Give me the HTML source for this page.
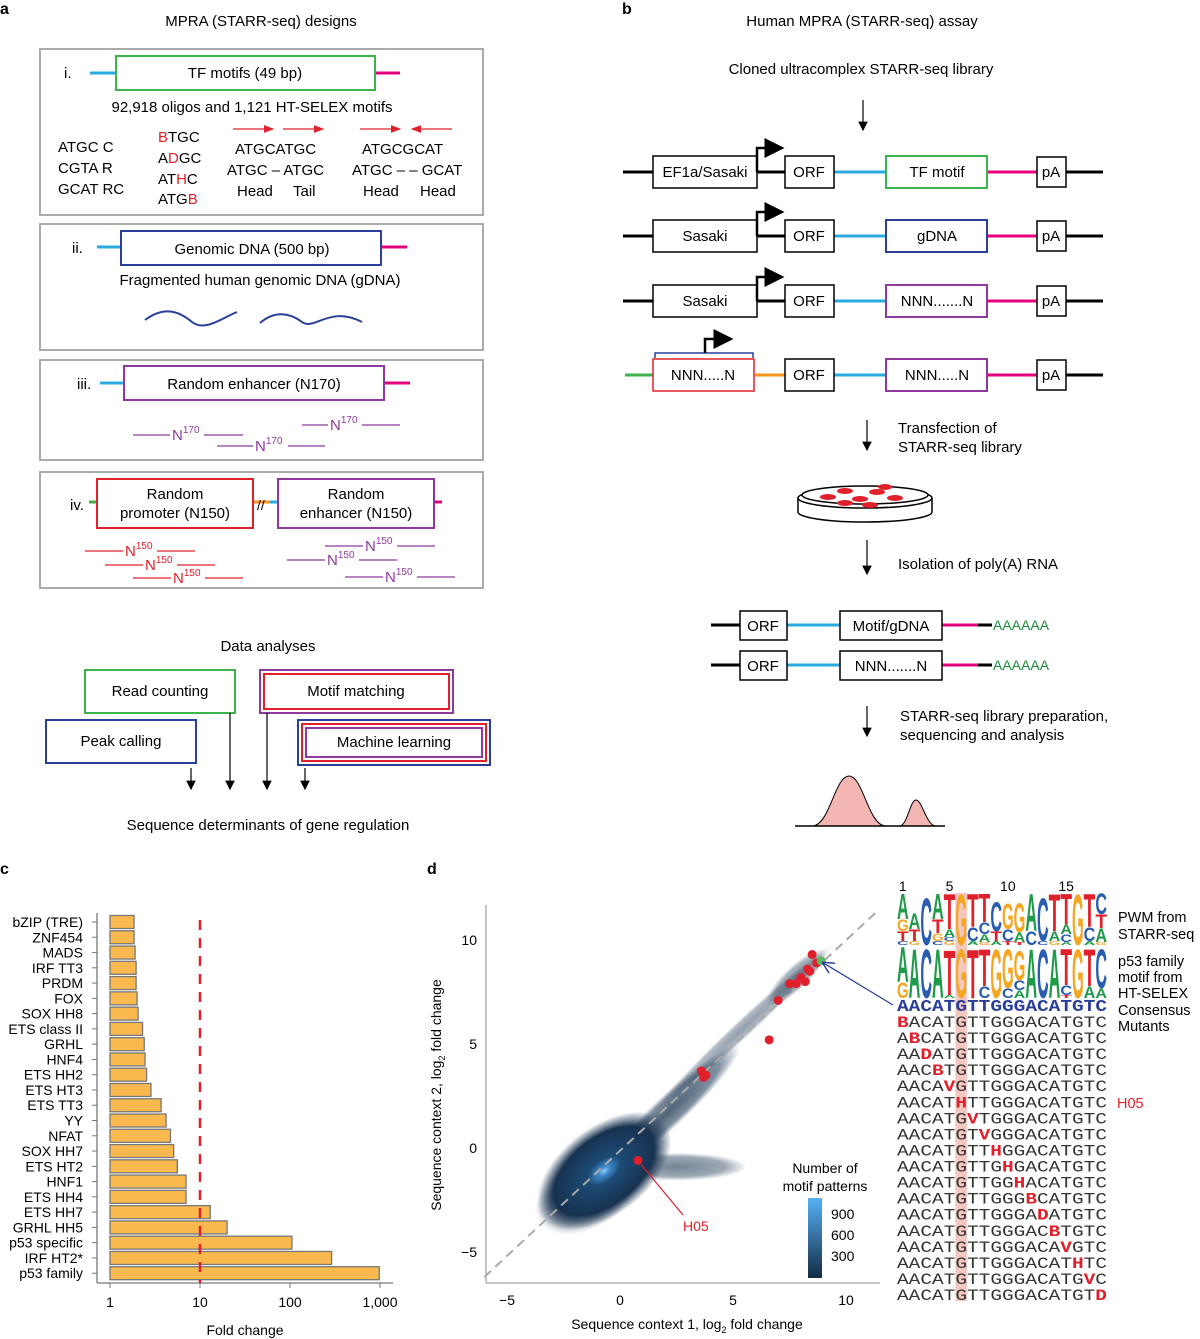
<!DOCTYPE html>
<html><head><meta charset="utf-8"><style>
html,body{margin:0;padding:0;background:#fff}
svg{display:block;font-family:"Liberation Sans",Arial,sans-serif}
</style></head><body>
<svg id="fig" width="1200" height="1339" viewBox="0 0 1200 1339" xmlns="http://www.w3.org/2000/svg">
<defs>
<marker id="ah" markerWidth="8" markerHeight="8" refX="7" refY="4" orient="auto"><path d="M0,0 L8,4 L0,8 z" fill="#000"/></marker>
<marker id="ahr" markerWidth="8" markerHeight="8" refX="7" refY="4" orient="auto"><path d="M0,1 L8,4 L0,7 z" fill="#e0202a"/></marker>
<marker id="ahb" markerWidth="10" markerHeight="10" refX="1" refY="5" orient="auto"><path d="M10,0 L0,5 L10,10" fill="none" stroke="#2a3f9a" stroke-width="1.2"/></marker>
<radialGradient id="cloud" cx="50%" cy="50%" r="50%"><stop offset="0" stop-color="#8fd0fa"/><stop offset="0.08" stop-color="#3f8ccc"/><stop offset="0.25" stop-color="#1c4a75"/><stop offset="0.75" stop-color="#17324f"/><stop offset="1" stop-color="#17324f" stop-opacity="0"/></radialGradient>
<radialGradient id="band" cx="50%" cy="50%" r="50%"><stop offset="0" stop-color="#17324f" stop-opacity="0.85"/><stop offset="0.7" stop-color="#17324f" stop-opacity="0.6"/><stop offset="1" stop-color="#17324f" stop-opacity="0"/></radialGradient>
<linearGradient id="cbar" x1="0" y1="0" x2="0" y2="1"><stop offset="0" stop-color="#56b1f7"/><stop offset="1" stop-color="#132b43"/></linearGradient>
</defs>
<g font-size="15" fill="#000">
<!-- PANEL A -->
<g>
<text x="0" y="14" font-weight="bold" font-size="16">a</text>
<text x="261" y="26" text-anchor="middle">MPRA (STARR-seq) designs</text>
<rect x="40" y="49" width="443" height="166" fill="none" stroke="#aaa" stroke-width="2"/>
<line x1="90" y1="73" x2="116" y2="73" stroke="#29abe2" stroke-width="3"/><line x1="375" y1="73" x2="400" y2="73" stroke="#e6007e" stroke-width="3"/>
<rect x="116" y="56" width="259" height="34" fill="#fff" stroke="#3cb44b" stroke-width="2"/>
<text x="245" y="78" text-anchor="middle">TF motifs (49 bp)</text>
<text x="64" y="78">i.</text>
<text x="252" y="112" text-anchor="middle">92,918 oligos and 1,121 HT-SELEX motifs</text>
<text x="58" y="152">ATGC C</text><text x="58" y="173">CGTA R</text><text x="58" y="194">GCAT RC</text>
<text x="158" y="142"><tspan fill="#e0202a">B</tspan>TGC</text>
<text x="158" y="163">A<tspan fill="#e0202a">D</tspan>GC</text>
<text x="158" y="184">AT<tspan fill="#e0202a">H</tspan>C</text>
<text x="158" y="204">ATG<tspan fill="#e0202a">B</tspan></text>
<g stroke="#e0202a" stroke-width="1.3">
<line x1="233" y1="129" x2="273" y2="129" marker-end="url(#ahr)"/><line x1="283" y1="129" x2="323" y2="129" marker-end="url(#ahr)"/>
<line x1="360" y1="129" x2="400" y2="129" marker-end="url(#ahr)"/><line x1="452" y1="129" x2="412" y2="129" marker-end="url(#ahr)"/>
</g>
<text x="235" y="154">ATGCATGC</text><text x="227" y="175">ATGC – ATGC</text><text x="237" y="196">Head</text><text x="293" y="196">Tail</text>
<text x="362" y="154">ATGCGCAT</text><text x="352" y="175">ATGC – – GCAT</text><text x="363" y="196">Head</text><text x="420" y="196">Head</text>

<rect x="40" y="224" width="443" height="126" fill="none" stroke="#aaa" stroke-width="2"/>
<line x1="97" y1="247" x2="121" y2="247" stroke="#29abe2" stroke-width="3"/><line x1="381" y1="247" x2="407" y2="247" stroke="#e6007e" stroke-width="3"/>
<rect x="121" y="231" width="260" height="34" fill="#fff" stroke="#2a3f9a" stroke-width="2"/>
<text x="252" y="254" text-anchor="middle">Genomic DNA (500 bp)</text>
<text x="72" y="253">ii.</text>
<text x="260" y="285" text-anchor="middle">Fragmented human genomic DNA (gDNA)</text>
<path d="M145,320 C165,305 180,312 192,322 C205,332 222,318 237,312" fill="none" stroke="#2a3f9a" stroke-width="2"/>
<path d="M260,323 C275,310 290,313 302,322 C314,331 330,305 362,322" fill="none" stroke="#2a3f9a" stroke-width="2"/>

<rect x="40" y="360" width="443" height="100" fill="none" stroke="#aaa" stroke-width="2"/>
<line x1="100" y1="383" x2="124" y2="383" stroke="#29abe2" stroke-width="3"/><line x1="384" y1="383" x2="410" y2="383" stroke="#e6007e" stroke-width="3"/>
<rect x="124" y="366" width="260" height="34" fill="#fff" stroke="#8e3a9d" stroke-width="2"/>
<text x="254" y="389" text-anchor="middle">Random enhancer (N170)</text>
<text x="77" y="389">iii.</text>
<g stroke="#8e3a9d" stroke-width="1.3"><line x1="133" y1="435" x2="170" y2="435"/><line x1="204" y1="435" x2="243" y2="435"/><line x1="217" y1="446" x2="253" y2="446"/><line x1="288" y1="446" x2="325" y2="446"/><line x1="302" y1="425" x2="328" y2="425"/><line x1="362" y1="425" x2="400" y2="425"/></g>
<g fill="#8e3a9d"><text x="172" y="440">N<tspan font-size="10" dy="-7">170</tspan></text><text x="255" y="451">N<tspan font-size="10" dy="-7">170</tspan></text><text x="330" y="430">N<tspan font-size="10" dy="-7">170</tspan></text></g>

<rect x="40" y="472" width="443" height="116" fill="none" stroke="#aaa" stroke-width="2"/>
<line x1="89" y1="502" x2="97" y2="502" stroke="#3cb44b" stroke-width="3"/><line x1="253" y1="502" x2="270" y2="502" stroke="#f7931e" stroke-width="3"/><line x1="270" y1="502" x2="278" y2="502" stroke="#29abe2" stroke-width="3"/><line x1="434" y1="502" x2="442" y2="502" stroke="#e6007e" stroke-width="3"/>
<rect x="97" y="479" width="156" height="49" fill="#fff" stroke="#e0202a" stroke-width="2"/>
<text x="175" y="499" text-anchor="middle">Random</text><text x="175" y="518" text-anchor="middle">promoter (N150)</text>
<text x="257" y="510" font-size="14">//</text>
<rect x="278" y="479" width="156" height="49" fill="#fff" stroke="#8e3a9d" stroke-width="2"/>
<text x="356" y="499" text-anchor="middle">Random</text><text x="356" y="518" text-anchor="middle">enhancer (N150)</text>
<text x="70" y="510">iv.</text>
<g stroke="#e0202a" stroke-width="1.3"><line x1="85" y1="551" x2="123" y2="551"/><line x1="157" y1="551" x2="195" y2="551"/><line x1="105" y1="565" x2="143" y2="565"/><line x1="177" y1="565" x2="215" y2="565"/><line x1="133" y1="578" x2="171" y2="578"/><line x1="205" y1="578" x2="243" y2="578"/></g>
<g fill="#e0202a"><text x="125" y="556">N<tspan font-size="10" dy="-7">150</tspan></text><text x="145" y="570">N<tspan font-size="10" dy="-7">150</tspan></text><text x="173" y="583">N<tspan font-size="10" dy="-7">150</tspan></text></g>
<g stroke="#8e3a9d" stroke-width="1.3"><line x1="325" y1="546" x2="363" y2="546"/><line x1="397" y1="546" x2="435" y2="546"/><line x1="287" y1="560" x2="325" y2="560"/><line x1="359" y1="560" x2="397" y2="560"/><line x1="345" y1="577" x2="383" y2="577"/><line x1="417" y1="577" x2="455" y2="577"/></g>
<g fill="#8e3a9d"><text x="365" y="551">N<tspan font-size="10" dy="-7">150</tspan></text><text x="327" y="565">N<tspan font-size="10" dy="-7">150</tspan></text><text x="385" y="582">N<tspan font-size="10" dy="-7">150</tspan></text></g>

<text x="268" y="651" text-anchor="middle">Data analyses</text>
<rect x="85" y="670" width="150" height="43" fill="none" stroke="#3cb44b" stroke-width="2"/>
<text x="160" y="696" text-anchor="middle">Read counting</text>
<rect x="260" y="670" width="193" height="43" fill="none" stroke="#8e3a9d" stroke-width="2"/>
<rect x="264" y="674" width="185" height="35" fill="none" stroke="#e0202a" stroke-width="2"/>
<text x="356" y="696" text-anchor="middle">Motif matching</text>
<rect x="46" y="720" width="150" height="43" fill="none" stroke="#2a3f9a" stroke-width="2"/>
<text x="121" y="746" text-anchor="middle">Peak calling</text>
<rect x="298" y="720" width="192" height="45" fill="none" stroke="#2a3f9a" stroke-width="2"/>
<rect x="302" y="724" width="184" height="37" fill="none" stroke="#e0202a" stroke-width="2"/>
<rect x="306" y="728" width="176" height="29" fill="none" stroke="#8e3a9d" stroke-width="2"/>
<text x="394" y="747" text-anchor="middle">Machine learning</text>
<g stroke="#000" stroke-width="1.2"><line x1="191" y1="768" x2="191" y2="789" marker-end="url(#ah)"/><line x1="230" y1="713" x2="230" y2="789" marker-end="url(#ah)"/><line x1="267" y1="713" x2="267" y2="789" marker-end="url(#ah)"/><line x1="305" y1="768" x2="305" y2="789" marker-end="url(#ah)"/></g>
<text x="268" y="830" text-anchor="middle">Sequence determinants of gene regulation</text>
</g>

<!-- PANEL B -->
<g>
<text x="622" y="14" font-weight="bold" font-size="16">b</text>
<text x="862" y="26" text-anchor="middle">Human MPRA (STARR-seq) assay</text>
<text x="861" y="74" text-anchor="middle">Cloned ultracomplex STARR-seq library</text>
<line x1="863" y1="100" x2="863" y2="130" stroke="#000" stroke-width="1.2" marker-end="url(#ah)"/>
<g id="constructs"></g>
<line x1="867" y1="420" x2="867" y2="450" stroke="#000" stroke-width="1.2" marker-end="url(#ah)"/>
<text x="898" y="433">Transfection of</text><text x="898" y="452">STARR-seq library</text>
<g stroke="#000" stroke-width="1.5" fill="#fff">
<ellipse cx="865" cy="512" rx="67" ry="10"/><rect x="798" y="498" width="134" height="14" stroke="none"/>
<line x1="798" y1="498" x2="798" y2="512"/><line x1="932" y1="498" x2="932" y2="512"/>
<ellipse cx="865" cy="498" rx="67" ry="10"/><ellipse cx="865" cy="495" rx="63" ry="9"/>
</g>
<g fill="#e0202a"><ellipse cx="828" cy="497" rx="8" ry="3"/><ellipse cx="845" cy="491" rx="8" ry="3"/><ellipse cx="860" cy="499" rx="8" ry="3"/><ellipse cx="877" cy="492" rx="8" ry="3"/><ellipse cx="895" cy="498" rx="8" ry="3"/><ellipse cx="845" cy="503" rx="8" ry="3"/><ellipse cx="870" cy="505" rx="8" ry="3"/><ellipse cx="885" cy="487" rx="7" ry="3"/></g>
<line x1="867" y1="540" x2="867" y2="574" stroke="#000" stroke-width="1.2" marker-end="url(#ah)"/>
<text x="898" y="569">Isolation of poly(A) RNA</text>
<g id="rnas"></g>
<line x1="867" y1="706" x2="867" y2="736" stroke="#000" stroke-width="1.2" marker-end="url(#ah)"/>
<text x="900" y="721">STARR-seq library preparation,</text><text x="900" y="740">sequencing and analysis</text>
<path d="M813,826 C830,824 835,776 849,776 C863,776 868,824 885,826 M900,826 C908,824 910,800 916,800 C922,800 926,824 935,826" fill="#f4b6b2" stroke="#000" stroke-width="1"/>
<line x1="795" y1="826" x2="945" y2="826" stroke="#000" stroke-width="1.5"/>
</g>

<!-- PANEL C -->
<g>
<text x="0" y="874" font-weight="bold" font-size="16">c</text>
<g id="barchart"></g>
</g>

<!-- PANEL D -->
<g>
<text x="427" y="874" font-weight="bold" font-size="16">d</text>
<g id="scatter"></g>
<g id="logos"></g>
</g>
</g>
</svg>
<script>
const NS='http://www.w3.org/2000/svg';
function mk(parent,tag,attrs,txt){const e=document.createElementNS(NS,tag);for(const k in attrs)e.setAttribute(k,attrs[k]);if(txt!==undefined)e.textContent=txt;parent.appendChild(e);return e;}

// ---- Panel b constructs
(function(){
const g=document.getElementById('constructs');
const rows=[{y:172,prom:'EF1a/Sasaki',ins:'TF motif',col:'#3cb44b',mode:0},{y:236,prom:'Sasaki',ins:'gDNA',col:'#2a3f9a',mode:0},{y:301,prom:'Sasaki',ins:'NNN.......N',col:'#8e3a9d',mode:0},{y:375,prom:'NNN.....N',ins:'NNN.....N',col:'#8e3a9d',mode:1}];
rows.forEach(r=>{
 const y=r.y;
 mk(g,'line',{x1:r.mode?625:623,y1:y,x2:653,y2:y,stroke:r.mode?'#3cb44b':'#000','stroke-width':3});
 mk(g,'line',{x1:755,y1:y,x2:785,y2:y,stroke:r.mode?'#f7931e':'#000','stroke-width':3});
 mk(g,'line',{x1:834,y1:y,x2:886,y2:y,stroke:'#29abe2','stroke-width':3});
 mk(g,'line',{x1:987,y1:y,x2:1037,y2:y,stroke:'#e6007e','stroke-width':3});
 mk(g,'line',{x1:1066,y1:y,x2:1103,y2:y,stroke:'#000','stroke-width':3});
 const pb=mk(g,'rect',{x:653,y:y-16,width:r.mode?101:104,height:32,fill:'#fff',stroke:r.mode?'#e0202a':'#000','stroke-width':1.5});
 
 
 mk(g,'text',{x:r.mode?703:705,y:y+5,'text-anchor':'middle'},r.prom);
 mk(g,'rect',{x:785,y:y-16,width:49,height:32,fill:'#fff',stroke:'#000','stroke-width':1.5});
 mk(g,'text',{x:809,y:y+5,'text-anchor':'middle'},'ORF');
 mk(g,'rect',{x:886,y:y-16,width:101,height:32,fill:'#fff',stroke:r.col,'stroke-width':2});
 mk(g,'text',{x:937,y:y+5,'text-anchor':'middle'},r.ins);
 mk(g,'rect',{x:1037,y:y-15,width:29,height:30,fill:'#fff',stroke:'#000','stroke-width':1.5});
 mk(g,'text',{x:1051,y:y+5,'text-anchor':'middle'},'pA');
 if(r.mode){
  mk(g,'path',{d:'M655,358 L655,353 L753,353 L753,358',fill:'none',stroke:'#2a3f9a','stroke-width':1.5});
  mk(g,'path',{d:'M705,353 L705,339 L731,339',fill:'none',stroke:'#000','stroke-width':2.5,'marker-end':'url(#ah)'});
 } else {
  mk(g,'path',{d:`M757,${y} L757,${y-24} L782,${y-24}`,fill:'none',stroke:'#000','stroke-width':2.5,'marker-end':'url(#ah)'});
 }
});
const rg=document.getElementById('rnas');
[{y:625,t:'Motif/gDNA'},{y:665,t:'NNN.......N'}].forEach(r=>{
 const y=r.y;
 mk(rg,'line',{x1:711,y1:y,x2:740,y2:y,stroke:'#000','stroke-width':3});
 mk(rg,'line',{x1:787,y1:y,x2:840,y2:y,stroke:'#29abe2','stroke-width':3});
 mk(rg,'line',{x1:942,y1:y,x2:978,y2:y,stroke:'#e6007e','stroke-width':3});
 mk(rg,'line',{x1:978,y1:y,x2:992,y2:y,stroke:'#000','stroke-width':3});
 mk(rg,'rect',{x:740,y:y-14,width:47,height:29,fill:'#fff',stroke:'#000','stroke-width':1.5});
 mk(rg,'text',{x:763,y:y+6,'text-anchor':'middle'},'ORF');
 mk(rg,'rect',{x:840,y:y-14,width:102,height:29,fill:'#fff',stroke:'#000','stroke-width':1.5});
 mk(rg,'text',{x:891,y:y+6,'text-anchor':'middle'},r.t);
 mk(rg,'text',{x:993,y:y+5,fill:'#1e8a3e','font-size':14},'AAAAAA');
});
})();

// ---- Panel c bar chart data
const barCategories=['bZIP (TRE)','ZNF454','MADS','IRF TT3','PRDM','FOX','SOX HH8','ETS class II','GRHL','HNF4','ETS HH2','ETS HT3','ETS TT3','YY','NFAT','SOX HH7','ETS HT2','HNF1','ETS HH4','ETS HH7','GRHL HH5','p53 specific','IRF HT2*','p53 family'];
const barValues=[1.85,1.85,1.9,1.95,1.95,2.0,2.05,2.3,2.4,2.45,2.55,2.85,3.7,4.2,4.7,5.1,5.6,7.0,7.0,13,20,105,290,980];
const barTickValues=[1,10,100,1000];
const barTickLabels=['1','10','100','1,000'];
const barThreshold=10;
(function(){
const g=document.getElementById('barchart');
const x=v=>110+90*Math.log10(v);
const y=i=>922+i*15.27;
mk(g,'line',{x1:97,y1:913,x2:97,y2:1283,stroke:'#777','stroke-width':1.3});
mk(g,'line',{x1:97,y1:1283,x2:393,y2:1283,stroke:'#777','stroke-width':1.3});
barCategories.forEach((c,i)=>{
 const b=mk(g,'rect',{x:x(1),y:y(i)-6.5,width:x(barValues[i])-x(1),height:13,fill:'#f9b94f',stroke:'#777','stroke-width':1.3});
 
 
 mk(g,'line',{x1:92,y1:y(i),x2:97,y2:y(i),stroke:'#777'});
 const t=mk(g,'text',{x:83,y:y(i)+5,'text-anchor':'end','font-size':14},c);
 
 
});
barTickValues.forEach((v,i)=>{
 mk(g,'line',{x1:x(v),y1:1283,x2:x(v),y2:1288,stroke:'#777'});
 mk(g,'text',{x:x(v),y:1307,'text-anchor':'middle','font-size':14},barTickLabels[i]);
});
mk(g,'line',{x1:x(barThreshold),y1:920,x2:x(barThreshold),y2:1283,stroke:'#e0202a','stroke-width':2.5,'stroke-dasharray':'10,8'});
const xt=mk(g,'text',{x:245,y:1335,'text-anchor':'middle','font-size':14},'Fold change');


})();

// ---- Panel d scatter
const highlightX=[8.5,8.3,8.0,8.7,7.5,7.8,8.2,8.4,7.0,3.6,3.8,3.7,6.6,0.8];
const highlightY=[9.3,8.6,8.2,8.9,7.9,7.9,8.0,8.5,7.1,3.7,3.5,3.4,5.2,-0.6];
const consensusX=[8.9];
const consensusY=[9.0];
const scTicksX=[-5,0,5,10];
const scTicksY=[-5,0,5,10];
const cbarTicks=[900,600,300];
(function(){
const g=document.getElementById('scatter');
const sx=v=>620+22.6*v, sy=v=>1148-20.8*v;
const el=(cx,cy,rx,ry,rot,fill,op)=>mk(g,'ellipse',{cx:sx(cx),cy:sy(cy),rx:rx,ry:ry,fill:fill,opacity:op,transform:`rotate(${rot} ${sx(cx)} ${sy(cy)})`});
// density regions (visual background for the ~thousands of unlabeled points)
el(5.5,5.8,120,9,-43,'url(#band)',0.55);
el(2.2,1.8,95,16,-43,'url(#band)',0.9);
el(7.8,8.2,40,12,-43,'url(#band)',0.6);
el(2.5,-0.9,70,14,0,'url(#band)',0.7);
el(-1.5,-2.2,55,35,-30,'url(#band)',0.7);
el(-0.7,-1.1,78,44,-38,'url(#cloud)',1);
mk(g,'line',{x1:486,y1:905,x2:486,y2:1283,stroke:'#888'});
mk(g,'line',{x1:486,y1:1283,x2:880,y2:1283,stroke:'#888'});
mk(g,'line',{x1:sx(-6),y1:sy(-6.2),x2:sx(11.3),y2:sy(11.3),stroke:'#aaa','stroke-width':2,'stroke-dasharray':'9,6'});
scTicksX.forEach(v=>{mk(g,'text',{x:sx(v),y:1305,'text-anchor':'middle','font-size':14},String(v).replace('-','−'));});
scTicksY.forEach(v=>{mk(g,'text',{x:477,y:sy(v)+5,'text-anchor':'end','font-size':14},String(v).replace('-','−'));});
const xl=mk(g,'text',{x:687,y:1329,'text-anchor':'middle','font-size':14});
xl.innerHTML='Sequence context 1, log<tspan font-size="9" dy="4">2</tspan><tspan dy="-4"> fold change</tspan>';


const yl=mk(g,'text',{x:0,y:0,'text-anchor':'middle','font-size':14,transform:'translate(441 1095) rotate(-90)'});
yl.innerHTML='Sequence context 2, log<tspan font-size="9" dy="4">2</tspan><tspan dy="-4"> fold change</tspan>';


highlightX.forEach((v,i)=>{
 const c=mk(g,'circle',{cx:sx(v),cy:sy(highlightY[i]),r:4.5,fill:'#e0202a'});
 
 
});
consensusX.forEach((v,i)=>{
 const c=mk(g,'circle',{cx:sx(v),cy:sy(consensusY[i]),r:4.5,fill:'#5cb85c'});
 
 
});
mk(g,'line',{x1:sx(consensusX[0])+2,y1:sy(consensusY[0])+2,x2:893,y2:1005,stroke:'#2a3f9a','stroke-width':1.2,'marker-start':'url(#ahb)'});
mk(g,'line',{x1:sx(0.8)+3,y1:sy(-0.6)+4,x2:683,y2:1215,stroke:'#e0202a','stroke-width':1.2});
mk(g,'text',{x:683,y:1231,fill:'#e0202a','font-size':14},'H05');
mk(g,'text',{x:825,y:1173,'text-anchor':'middle','font-size':14},'Number of');
mk(g,'text',{x:825,y:1191,'text-anchor':'middle','font-size':14},'motif patterns');
const cb=mk(g,'rect',{x:808,y:1198,width:14,height:80,fill:'url(#cbar)'});


cbarTicks.forEach((t,i)=>mk(g,'text',{x:831,y:1219+i*21,'font-size':14},t));
})();

// ---- Logos & sequences
const consensusSeq='AACATGTTGGGACATGTC';
const mutantSeqs=['BACATGTTGGGACATGTC','ABCATGTTGGGACATGTC','AADATGTTGGGACATGTC','AACBTGTTGGGACATGTC','AACAVGTTGGGACATGTC','AACATHTTGGGACATGTC','AACATGVTGGGACATGTC','AACATGTVGGGACATGTC','AACATGTTHGGACATGTC','AACATGTTGHGACATGTC','AACATGTTGGHACATGTC','AACATGTTGGGBCATGTC','AACATGTTGGGADATGTC','AACATGTTGGGACBTGTC','AACATGTTGGGACAVGTC','AACATGTTGGGACATHTC','AACATGTTGGGACATGVC','AACATGTTGGGACATGTD'];
const logo1=[['C','T','G','A'],['G','T','A'],['C','C'],['C','G','T','A'],['G','C','A','T'],['G'],['A','C','T'],['G','A','C','T'],['A','T','C'],['T','C','G'],['T','A','G'],['C','A'],['C','C'],['G','A','T'],['A','C','A','T'],['G'],['A','C','T'],['G','A','T','C']];
const logo1h=[[4,10,12,26],[4,12,16],[48,0],[4,8,14,26],[4,4,8,36],[52],[4,14,34],[3,8,12,29],[4,10,30],[4,12,26],[3,10,30],[14,38],[4,44],[4,10,38],[3,8,10,31],[52],[4,14,34],[3,14,14,21]];
const logo2=[['G','A'],['A'],['C'],['A'],['A','T'],['G'],['T'],['C','T'],['G'],['C','G'],['A','C','G'],['A'],['C'],['A'],['T','C','T'],['G'],['A','T'],['A','C']];
const logo2h=[[16,36],[50],[50],[50],[3,46],[50],[50],[12,38],[50],[10,40],[8,10,30],[50],[50],[50],[3,10,37],[50],[12,38],[10,40]];
(function(){
const g=document.getElementById('logos');
const x0=897, cw=210/18;
const colors={A:'#1e9a48',C:'#2a5db0',G:'#f5a623',T:'#e0202a'};
mk(g,'rect',{x:x0+5*cw,y:893,width:cw,height:408,fill:'#f1b9b2',opacity:0.8});
[[1,0],[5,4],[10,9],[15,14]].forEach(p=>mk(g,'text',{x:x0+p[1]*cw+cw/2,y:891,'text-anchor':'middle','font-size':14},p[0]));
function drawLogo(letters,heights,base){
 letters.forEach((col,i)=>{
  let yb=base;
  col.forEach((L,j)=>{
   const h=heights[i][j]; if(h<=0) return;
   const s=h/14.3;
   mk(g,'text',{x:0,y:0,'font-size':20,'font-weight':'bold',fill:colors[L],textLength:cw,lengthAdjust:'spacingAndGlyphs',transform:`translate(${x0+i*cw} ${yb}) scale(1 ${s.toFixed(3)})`},L);
   yb-=h;
  });
 });
}
drawLogo(logo1,logo1h,945);
drawLogo(logo2,logo2h,998);
const cs=mk(g,'text',{x:x0,y:1011,'font-family':'Liberation Mono, monospace','font-size':17,'font-weight':'bold',fill:'#2a3f9a',textLength:210,lengthAdjust:'spacingAndGlyphs'},consensusSeq);


mutantSeqs.forEach((s,i)=>{
 const t=mk(g,'text',{x:x0,y:1027+i*16.06,'font-family':'Liberation Mono, monospace','font-size':16,fill:'#333',textLength:210,lengthAdjust:'spacingAndGlyphs'});
 let html='';
 for(const ch of s){ if('ACGT'.includes(ch)) html+=ch; else html+='<tspan fill="#e0202a" font-weight="bold">'+ch+'</tspan>'; }
 t.innerHTML=html;
 
 
});
const labels=[['PWM from',918],['STARR-seq',935],['p53 family',962],['motif from',978],['HT-SELEX',994],['Consensus',1011],['Mutants',1027]];
labels.forEach(l=>mk(g,'text',{x:1118,y:l[1]+4,'font-size':14.5},l[0]));
mk(g,'text',{x:1117,y:1108,'font-size':14.5,fill:'#e0202a'},'H05');
})();
</script>
</body></html>
